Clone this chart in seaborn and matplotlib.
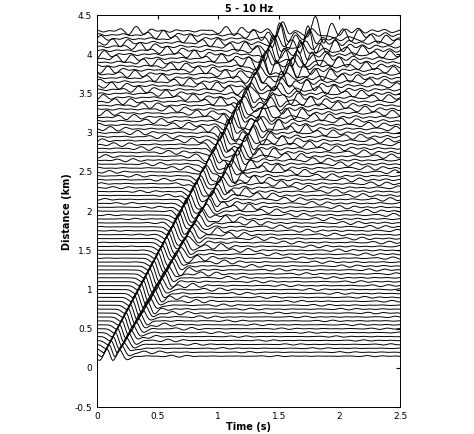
import matplotlib
matplotlib.use("Agg")
import matplotlib.pyplot as plt
import numpy as np
import pandas as pd
import seaborn as sns

# trace offsets (km) and arrival moveout read from the section
distances = np.round(np.arange(0.15, 4.31, 0.05), 2)
first_t0, first_slowness = 0.03, 0.35      # s, s/km
second_t0, second_slowness = 0.12, 0.39
first_amp, second_amp = 0.12, 0.10         # km of deflection
noise_freqs = [5.5, 6.8, 8.1, 9.3]         # Hz, inside the 5-10 Hz band
noise_amp_near, noise_amp_far = 0.004, 0.028
xticks = [0, 0.5, 1, 1.5, 2, 2.5]
yticks = [-0.5, 0, 0.5, 1, 1.5, 2, 2.5, 3, 3.5, 4, 4.5]

t = np.linspace(0, 2.5, 1200)


def wavelet(tt, tc, f=6.0):
    a = (np.pi * f * (tt - tc)) ** 2
    return (1 - 2 * a) * np.exp(-a)


rows = []
for i, d in enumerate(distances):
    t1 = first_t0 + first_slowness * d
    t2 = second_t0 + second_slowness * d
    na = noise_amp_near + (noise_amp_far - noise_amp_near) * (d / 4.3) ** 1.5
    noise = sum(np.sin(2 * np.pi * f * t + 1.7 * i * (k + 1) + 0.9 * k)
                for k, f in enumerate(noise_freqs)) / 2
    pre = np.clip((d - 1.0) / 2.5, 0, 1)
    coda = pre + (1 - pre) * np.clip((t - t1 + 0.1) / 0.3, 0, 1)
    env = coda * (1 + 1.2 * np.exp(-((t - t1 - 0.25) / 0.4) ** 2))
    y = (d + first_amp * wavelet(t, t1) + second_amp * wavelet(t, t2, 5.5)
         + na * noise * env)
    rows.append(pd.DataFrame({"time": t, "dist": y, "trace": i}))
df = pd.concat(rows)

sns.set_style("white")
fig = plt.figure(figsize=(4.74, 4.34), dpi=100)
ax = fig.add_axes([0.205, 0.062, 0.639, 0.903])
sns.lineplot(data=df, x="time", y="dist", units="trace", estimator=None,
             color="black", lw=0.7, ax=ax, legend=False)
ax.set_xlim(0, 2.5)
ax.set_ylim(-0.5, 4.5)
ax.set_xticks(xticks)
ax.set_xticklabels(["0", "0.5", "1", "1.5", "2", "2.5"])
ax.set_yticks(yticks)
ax.set_yticklabels(["-0.5", "0", "0.5", "1", "1.5", "2", "2.5", "3", "3.5", "4", "4.5"])
ax.tick_params(direction="in", top=True, right=True, labelsize=6.5, length=3,
               colors="black")
for s in ax.spines.values():
    s.set_color("black")
    s.set_linewidth(0.7)
ax.set_xlabel("Time (s)", fontsize=7, fontweight="bold", labelpad=1, color="black")
ax.set_ylabel("Distance (km)", fontsize=7, fontweight="bold", labelpad=2, color="black")
ax.set_title("5 - 10 Hz", fontsize=7, fontweight="bold", pad=2, color="black")
fig.savefig("out.png", dpi=100)
